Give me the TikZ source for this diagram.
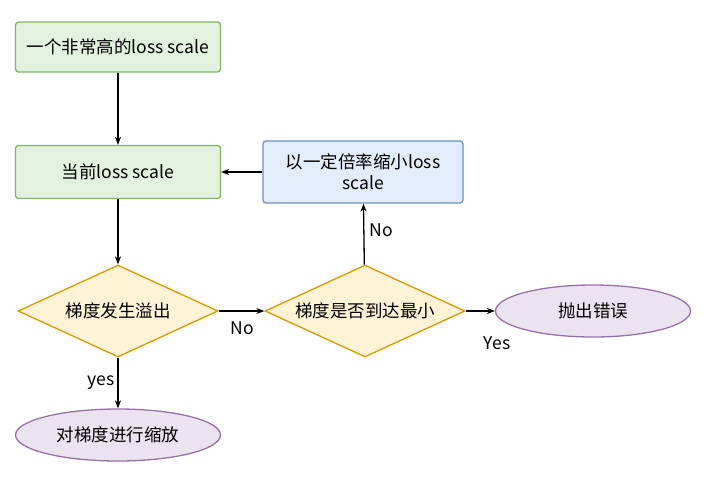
\documentclass[tikz,border=0pt]{standalone}
\usepackage{fontspec}
\setmainfont{Noto Sans CJK SC}
\usetikzlibrary{shapes.geometric,arrows.meta}
\definecolor{gf}{HTML}{E3F1DF}\definecolor{gs}{HTML}{82B366}
\definecolor{bf}{HTML}{E3ECFA}\definecolor{bs}{HTML}{6C8EBF}
\definecolor{of}{HTML}{FFF3D6}\definecolor{os}{HTML}{D79B00}
\definecolor{pf}{HTML}{ECE3F0}\definecolor{ps}{HTML}{9673A6}
\tikzset{
 every node/.style={font=\fontsize{17.5pt}{21pt}\selectfont},
 gbox/.style={draw=gs,fill=gf,line width=1.3pt,rounded corners=3pt,minimum width=205pt,minimum height=50pt},
 bbox/.style={draw=bs,fill=bf,line width=1.3pt,rounded corners=3pt,minimum width=200pt,minimum height=62pt,align=center,text width=190pt},
 dia/.style={draw=os,fill=of,line width=1.3pt,diamond,aspect=2.17,minimum width=200pt,minimum height=92pt,inner sep=0pt},
 ell/.style={draw=ps,fill=pf,line width=1.3pt,ellipse,minimum width=195pt,minimum height=52pt,inner sep=0pt},
 arr/.style={-{Stealth[length=8pt]},line width=1.3pt},
 lab/.style={font=\fontsize{17.5pt}{21pt}\selectfont}
}
\begin{document}
\begin{tikzpicture}[x=1pt,y=-1pt]
\useasboundingbox (0,0) rectangle (720,482);
\node[gbox] (a) at (118,47) {一个非常高的loss scale};
\node[gbox,minimum height=53pt] (b) at (118,172) {当前loss scale};
\node[bbox] (c) at (363,172) {以一定倍率缩小loss\\scale};
\node[dia] (d1) at (118,311) {梯度发生溢出};
\node[dia] (d2) at (365,311) {梯度是否到达最小};
\node[ell] (e1) at (593,311) {抛出错误};
\node[ell,minimum width=205pt] (e2) at (118,435) {对梯度进行缩放};
\draw[arr] (a) -- (b);
\draw[arr] (b) -- (d1);
\draw[arr] (d1) -- (d2);
\draw[arr] (d2) -- (e1);
\draw[arr] (d2) -- (c);
\draw[arr] (c) -- (b);
\draw[arr] (d1) -- (e2);
\node[lab] at (242,328) {No};
\node[lab] at (497,343) {Yes};
\node[lab] at (381,230) {No};
\node[lab] at (101,383) {yes};
\end{tikzpicture}
\end{document}
